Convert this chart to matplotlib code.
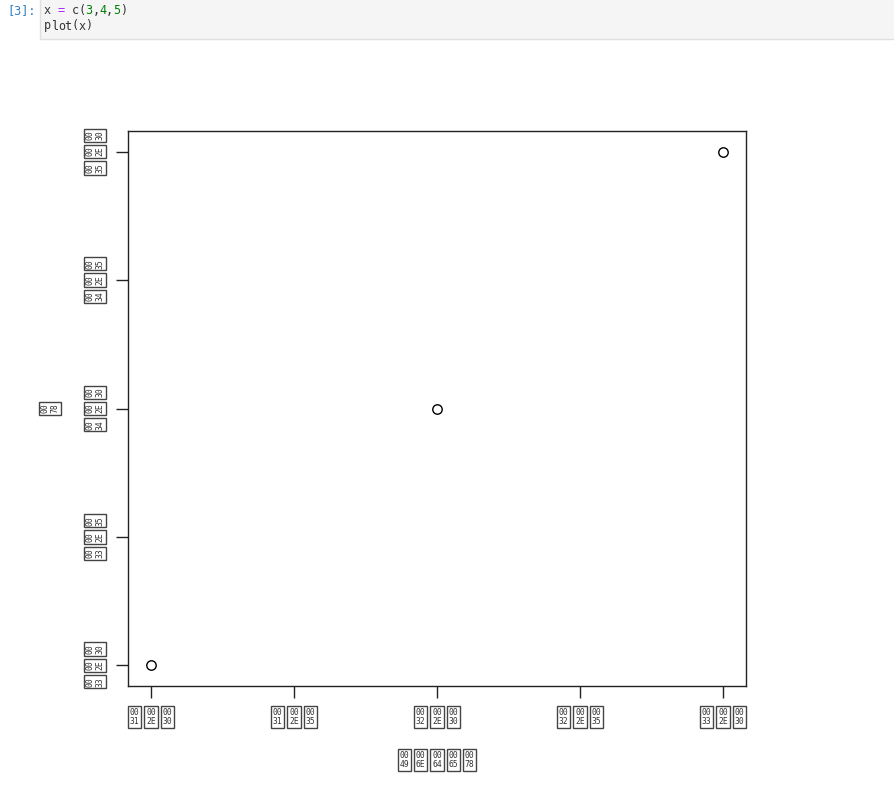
import numpy as np
import matplotlib.pyplot as plt
from matplotlib.patches import Rectangle

# data: plot(x) with x = c(3,4,5)
x_values = [3, 4, 5]
index = [1, 2, 3]
x_ticks = [1.0, 1.5, 2.0, 2.5, 3.0]
x_ticklabels = ["1.0", "1.5", "2.0", "2.5", "3.0"]
y_ticks = [3.0, 3.5, 4.0, 4.5, 5.0]
y_ticklabels = ["3.0", "3.5", "4.0", "4.5", "5.0"]
x_label = "Index"
y_label = "x"
code_lines = ["x = c(3,4,5)", "plot(x)"]
prompt = "[3]:"

W, H = 894, 801
fig = plt.figure(figsize=(W / 100, H / 100), dpi=100)
fig.patch.set_facecolor("white")


def fx(px):
    return px / W


def fy(py):
    return 1 - py / H


# notebook cell header
fig.patches.append(Rectangle((fx(40), fy(39)), fx(W) - fx(40) + 0.01, fy(-2) - fy(39),
                             transform=fig.transFigure, facecolor="#f5f5f5",
                             edgecolor="#e0e0e0", linewidth=1))
mono = "DejaVu Sans Mono"
fig.text(fx(7), fy(10.5), prompt, color="#307fc1", family=mono, fontsize=8.5, va="center")


def char_color(line, i):
    c = line[i]
    if c == "=":
        return "#aa22ff"
    if c.isdigit() and line.startswith("x ="):
        return "#008000"
    return "#333333"


for k, line in enumerate(code_lines):
    for i, c in enumerate(line):
        if c == " ":
            continue
        fig.text(fx(44 + i * 6.9), fy(10.5 + k * 15.5), c, color=char_color(line, i),
                 family=mono, fontsize=8.5, va="center")

ax = fig.add_axes([fx(128), fy(686), fx(746) - fx(128), fy(131) - fy(686)])
ax.plot(index, x_values, "o", markerfacecolor="none", markeredgecolor="black",
        markersize=6.8, markeredgewidth=1)
ax.set_xlim(0.92, 3.08)
ax.set_ylim(2.92, 5.08)
for s in ax.spines.values():
    s.set_linewidth(1)
    s.set_color("#222222")
ax.set_xticks(x_ticks)
ax.set_yticks(y_ticks)
ax.set_xticklabels([])
ax.set_yticklabels([])
ax.tick_params(direction="out", length=8.5, width=1, color="#222222")


def tofu(text, xy, xycoords, offset, rotation=0):
    # missing-glyph boxes showing the hex code point, as R draws them here
    n = len(text)
    step = 16.3
    for i, ch in enumerate(text):
        code = "%04X" % ord(ch)
        d = (i - (n - 1) / 2) * step
        if rotation:
            dx, dy = offset[0], offset[1] + d
        else:
            dx, dy = offset[0] + d, offset[1]
        ax.annotate(code[:2] + "\n" + code[2:], xy=xy, xycoords=xycoords,
                    xytext=(dx, dy), textcoords="offset pixels",
                    ha="center", va="center", rotation=rotation,
                    fontsize=5.8, family=mono, linespacing=1.05, color="#333333",
                    bbox=dict(boxstyle="square,pad=0.22", fc="white", ec="#444444", lw=1.0),
                    annotation_clip=False)


for t, lab in zip(x_ticks, x_ticklabels):
    tofu(lab, (t, 0), ("data", "axes fraction"), (0, -31))
for t, lab in zip(y_ticks, y_ticklabels):
    tofu(lab, (0, t), ("axes fraction", "data"), (-33, 0), rotation=90)
tofu(x_label, (0.5, 0), "axes fraction", (0, -74))
tofu(y_label, (0, 0.5), "axes fraction", (-78, 0), rotation=90)

fig.savefig("out.png", dpi=100)
